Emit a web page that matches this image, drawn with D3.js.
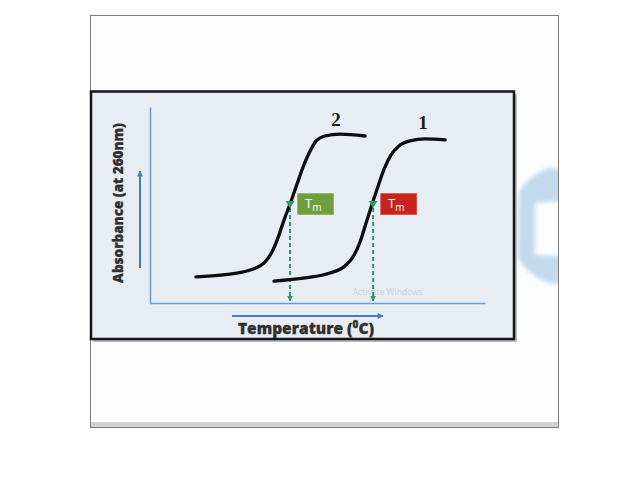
<!DOCTYPE html>
<html>
<head>
<meta charset="utf-8">
<script src="https://cdn.jsdelivr.net/npm/d3@7"></script>
<style>
  html, body { margin: 0; padding: 0; background: #ffffff; }
  svg { display: block; }
</style>
</head>
<body>
<script>
// ---- data ----
const seriesNames = ["1", "2"];
const temps2 = [13.7, 21.8, 29.9, 34.3, 36.4, 38.2, 40.0, 41.8, 43.9, 45.7, 47.5, 49.6, 52.2, 56.7, 64.2];
const abs2   = [0.133, 0.143, 0.168, 0.209, 0.260, 0.332, 0.423, 0.505, 0.607, 0.694, 0.765, 0.827, 0.852, 0.862, 0.852];
const temps1 = [37.0, 46.3, 53.7, 58.2, 60.6, 62.7, 64.5, 66.3, 68.1, 69.9, 71.9, 74.3, 77.6, 82.1, 88.1];
const abs1   = [0.112, 0.128, 0.153, 0.189, 0.235, 0.311, 0.408, 0.505, 0.597, 0.684, 0.755, 0.801, 0.827, 0.837, 0.832];
const tmValues = [66.6, 41.8];          // Tm of curve 1, curve 2
const tmAbs = [0.505, 0.505];
const labelPos = [[81.5, 0.908], [55.5, 0.923]]; // curve labels "1", "2"
const tmColors = ["#c8231d", "#6f9e3d"];
const yTitle = "Absorbance (at 260nm)";
const xTitle = "Temperature (";
const watermark = "Activate Windows";

const W = 638, H = 478;
const svg = d3.select("body").append("svg").attr("width", W).attr("height", H);

const defs = svg.append("defs");
function arrowMarker(id, color, w, h) {
  defs.append("marker").attr("id", id)
    .attr("viewBox", "0 0 10 10").attr("refX", 9).attr("refY", 5)
    .attr("markerWidth", w).attr("markerHeight", h).attr("orient", "auto")
    .attr("markerUnits", "userSpaceOnUse")
    .append("path").attr("d", "M0,0 L10,5 L0,10 Z").attr("fill", color);
}
arrowMarker("blueArrow", "#3f7fc0", 7, 6);
arrowMarker("greenArrow", "#2a9a6c", 6, 6);
defs.append("clipPath").attr("id", "pageClip")
  .append("rect").attr("x", 90).attr("y", 15).attr("width", 468).attr("height", 412);
const blur = defs.append("filter").attr("id", "soft");
blur.append("feGaussianBlur").attr("stdDeviation", 2);

// ---- slide page ----
svg.append("rect").attr("x", 90.5).attr("y", 15.5).attr("width", 468).attr("height", 412)
  .attr("fill", "#fdfdfd").attr("stroke", "#7d7d7d").attr("stroke-width", 1);
svg.append("rect").attr("x", 91).attr("y", 422).attr("width", 467).attr("height", 5).attr("fill", "#cfd1d4");

// decorative light-blue ring at right edge
const deco = svg.append("g").attr("clip-path", "url(#pageClip)");
deco.append("path")
  .attr("d", "M519,192 Q528,176 548,168 L580,170 L580,282 L552,284 Q528,276 518,258 Z M535,203 L535,255 L575,257 L575,200 Z")
  .attr("fill", "#c2d9ee").attr("fill-rule", "evenodd").attr("filter", "url(#soft)");

// ---- chart panel ----
svg.append("rect").attr("x", 93).attr("y", 94).attr("width", 424).attr("height", 248).attr("fill", "#b9bcc0");
svg.append("rect").attr("x", 91).attr("y", 91.5).attr("width", 423).attr("height", 247.5)
  .attr("fill", "#e8edf4").attr("stroke", "#151515").attr("stroke-width", 2.5);

// ---- scales & axes ----
const x = d3.scaleLinear().domain([0, 100]).range([150, 485]);
const y = d3.scaleLinear().domain([0, 1]).range([303, 107]);

const xAxis = svg.append("g").attr("transform", `translate(0,${y(0)})`)
  .call(d3.axisBottom(x).ticks(0).tickSizeOuter(0));
const yAxis = svg.append("g").attr("transform", `translate(${x(0)},0)`)
  .call(d3.axisLeft(y).ticks(0).tickSizeOuter(0));
[xAxis, yAxis].forEach(a => a.select(".domain").attr("stroke", "#6a9fd3").attr("stroke-width", 1.6));

// watermark
svg.append("text").attr("x", x(60.5)).attr("y", y(0.04)).attr("font-family", "Noto Sans, sans-serif")
  .attr("font-size", 8.5).attr("fill", "#cdd2da").text(watermark);

// axis titles with arrows
svg.append("line").attr("x1", 140).attr("y1", 268).attr("x2", 140).attr("y2", 171)
  .attr("stroke", "#3f7fc0").attr("stroke-width", 2).attr("marker-end", "url(#blueArrow)");
svg.append("text").attr("transform", "translate(123,203) rotate(-90)")
  .attr("text-anchor", "middle").attr("font-family", "Open Sans, sans-serif").attr("font-weight", 800)
  .attr("font-size", 13.5).attr("fill", "#2f2f2f").attr("stroke", "#2f2f2f").attr("stroke-width", 0.3)
  .text(yTitle);

svg.append("line").attr("x1", 232).attr("y1", 316).attr("x2", 383).attr("y2", 316)
  .attr("stroke", "#3f7fc0").attr("stroke-width", 2).attr("marker-end", "url(#blueArrow)");
const xt = svg.append("text").attr("x", 306).attr("y", 334)
  .attr("text-anchor", "middle").attr("font-family", "Open Sans, sans-serif").attr("font-weight", 800)
  .attr("font-size", 15.5).attr("fill", "#2f2f2f").attr("stroke", "#2f2f2f").attr("stroke-width", 0.3);
xt.append("tspan").text(xTitle);
xt.append("tspan").attr("dy", -6).attr("font-size", 10).text("0");
xt.append("tspan").attr("dy", 6).text("C)");

// ---- dashed Tm drop lines ----
tmValues.forEach((t, i) => {
  svg.append("line").attr("x1", x(t)).attr("x2", x(t)).attr("y1", y(tmAbs[i]) + 4).attr("y2", y(0) - 2)
    .attr("stroke", "#2a9a6c").attr("stroke-width", 2).attr("stroke-dasharray", "4,3")
    .attr("marker-end", "url(#greenArrow)");
});

// ---- curves ----
const line = d3.line().x(d => x(d[0])).y(d => y(d[1])).curve(d3.curveMonotoneX);
const curves = [d3.zip(temps1, abs1), d3.zip(temps2, abs2)];
svg.selectAll(".curve").data(curves).join("path").attr("class", "curve")
  .attr("d", line).attr("fill", "none").attr("stroke", "#0d0d0d").attr("stroke-width", 3.3)
  .attr("stroke-linecap", "round");

// green markers at the Tm points
tmValues.forEach((t, i) => {
  svg.append("path")
    .attr("d", `M${x(t) - 4.5},${y(tmAbs[i]) - 3} L${x(t) + 4.5},${y(tmAbs[i]) - 3} L${x(t)},${y(tmAbs[i]) + 4} Z`)
    .attr("fill", "#2a9a6c");
});

// curve labels
svg.selectAll(".clabel").data(seriesNames).join("text").attr("class", "clabel")
  .attr("x", (d, i) => x(labelPos[i][0])).attr("y", (d, i) => y(labelPos[i][1]))
  .attr("text-anchor", "middle").attr("dominant-baseline", "middle")
  .attr("font-family", "Liberation Serif, serif").attr("font-weight", 700).attr("font-size", 19)
  .attr("fill", "#1a1a1a").text(d => d);

// Tm boxes
tmValues.forEach((t, i) => {
  const bx = x(t) + 7, by = y(tmAbs[i]) - 11;
  const g = svg.append("g");
  g.append("rect").attr("x", bx).attr("y", by).attr("width", 37).attr("height", 22)
    .attr("fill", tmColors[i]).attr("stroke", "#ffffff").attr("stroke-opacity", 0.5).attr("stroke-width", 1);
  const tx = g.append("text").attr("x", bx + 8).attr("y", by + 15)
    .attr("font-family", "Open Sans, sans-serif").attr("font-size", 13).attr("fill", "#ffffff");
  tx.append("tspan").text("T");
  tx.append("tspan").attr("dy", 3).attr("font-size", 10).text("m");
});
</script>
</body>
</html>
